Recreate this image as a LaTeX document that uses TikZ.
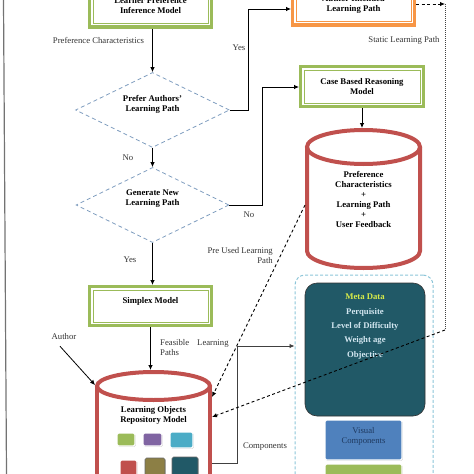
\documentclass[tikz,border=0pt]{standalone}
\usepackage{fontspec}
\setmainfont{Liberation Serif}
\usetikzlibrary{arrows.meta,shapes.geometric,calc,shadows}
\definecolor{grn}{HTML}{9BBB59}
\definecolor{org}{HTML}{F79646}
\definecolor{redc}{HTML}{C0504D}
\definecolor{dmdc}{HTML}{7F9DBF}
\definecolor{dboxc}{HTML}{8CC5D8}
\definecolor{tealc}{HTML}{215967}
\definecolor{metay}{HTML}{D6EA4A}
\definecolor{metaw}{HTML}{D2E6F0}
\definecolor{visb}{HTML}{4F81BD}
\definecolor{visn}{HTML}{1F3A60}
\definecolor{lblc}{HTML}{333333}
\definecolor{purp}{HTML}{8064A2}
\definecolor{cyanc}{HTML}{4BACC6}
\definecolor{olv}{HTML}{8C7F45}
\begin{document}
\begin{tikzpicture}[x=1pt,y=1pt,
  font=\fontsize{8.7}{10}\selectfont,
  gbox/.style={draw=grn, line width=3.2pt, inner sep=0pt, align=center,
    font=\fontsize{8.7}{10}\selectfont\bfseries},
  obox/.style={gbox, draw=org},
  inframe/.style={line width=0.9pt},
  dmd/.style={diamond, draw=dmdc, dash pattern=on 4pt off 3pt, line width=0.8pt, inner sep=0pt},
  btxt/.style={inner sep=0pt, align=center, font=\fontsize{8.7}{10}\selectfont\bfseries},
  lbl/.style={inner sep=0pt, text=lblc, font=\fontsize{8.7}{10}\selectfont},
  arr/.style={-{Latex[length=5pt,width=4.5pt]}, line width=0.8pt},
  darr/.style={arr, dash pattern=on 3pt off 2.5pt, line width=0.9pt},
  dotl/.style={dash pattern=on 1pt off 1pt, line width=0.9pt, draw=black!75},
  cyl/.style={draw=redc, line width=4pt},
  body/.style={inner sep=0pt, outer sep=0pt, minimum width=113pt, minimum height=104pt},
  sq/.style={draw=white, line width=1.2pt, rounded corners=1.5pt, inner sep=0pt,
    drop shadow={shadow xshift=0.8pt, shadow yshift=-0.8pt, opacity=0.35}},
]
\useasboundingbox (0,0) rectangle (474,-474);
\clip (0,0) rectangle (474,-474);

% left edge line
\draw[black!55, line width=1.2pt] (3.5,0) -- (6.5,-474);

% boxes
\node[gbox, minimum width=121.8pt, minimum height=44pt] (lpim) at (150.5,-5) {Learner Preference\\Inference Model};
\draw[grn, inframe] ($(lpim.south west)+(5,5)$) rectangle ($(lpim.north east)+(-5,-5)$);

\node[obox, minimum width=121.8pt, minimum height=42pt] (aip) at (353.5,-4) {Author Intended\\Learning Path};
\draw[org, inframe] ($(aip.south west)+(5,5)$) rectangle ($(aip.north east)+(-5,-5)$);

\node[gbox, minimum width=122.8pt, minimum height=39.8pt] (cbr) at (362,-86.5) {Case Based Reasoning\\Model};
\draw[grn, inframe] ($(cbr.south west)+(5,5)$) rectangle ($(cbr.north east)+(-5,-5)$);

\node[gbox, minimum width=121.8pt, minimum height=38.8pt] (simplex) at (150.5,-306) {};
\draw[grn, inframe] ($(simplex.south west)+(5,5)$) rectangle ($(simplex.north east)+(-5,-5)$);
\node[btxt] (simpt) at (150.5,-301) {Simplex Model};

% diamonds
\node[dmd, minimum width=154pt, minimum height=75pt] (d1) at (152.5,-110) {};
\node[btxt] (d1t) at (152.5,-104) {Prefer Authors'\\Learning Path};
\node[dmd, minimum width=153pt, minimum height=75pt] (d2) at (152.5,-205) {};
\node[btxt] (d2t) at (152.5,-199) {Generate New\\Learning Path};

% cylinder: preference characteristics
\node[body, btxt] (pcdb) at (363.5,-199) {Preference\\Characteristics\\+\\Learning Path\\+\\User Feedback};
\draw[cyl] (pcdb.north) ellipse [x radius=56.5, y radius=17];
\draw[cyl] (pcdb.north west) -- (pcdb.south west) arc[start angle=180, end angle=360, x radius=56.5, y radius=17] -- (pcdb.north east);

% dashed container + meta data
\node[draw=dboxc, dash pattern=on 3pt off 2pt, line width=1pt, rounded corners=10pt,
  minimum width=138pt, minimum height=220pt, inner sep=0pt] (dbox) at (364,-385) {};
\node[fill=tealc, draw=black!80, line width=0.6pt, rounded corners=12pt,
  minimum width=120pt, minimum height=133pt, inner sep=0pt] (meta) at (365,-349.5) {};
\node[inner sep=0pt, align=center, text=metaw, font=\fontsize{8.7}{14.3}\selectfont\bfseries] (metat) at (365,-326.5)
  {\textcolor{metay}{Meta Data}\\Perquisite\\Level of Difficulty\\Weight age\\Objective};
\node[sq, fill=visb, minimum width=77pt, minimum height=40pt] (vis) at (363.5,-440) {};
\node[inner sep=0pt, align=center, text=visn] (vist) at (363.5,-436) {Visual\\Components};
\node[sq, fill=grn, minimum width=77pt, minimum height=36pt] (grnb) at (363.5,-482) {};

% LO repository cylinder
\node[body] (lo) at (153.5,-438) {};
\draw[cyl] (lo.north) ellipse [x radius=56.5, y radius=14];
\draw[cyl] (lo.north west) -- (lo.south west);
\draw[cyl] (lo.north east) -- (lo.south east);
\node[btxt] (lot) at (153.5,-415) {Learning Objects\\Repository Model};
\node[sq, fill=grn, minimum width=18pt, minimum height=13pt] (s1) at (126,-439.5) {};
\node[sq, fill=purp, minimum width=19pt, minimum height=13pt] (s2) at (152.5,-439.5) {};
\node[sq, fill=cyanc, minimum width=23pt, minimum height=16pt] (s3) at (181.5,-440) {};
\node[sq, fill=redc, minimum width=17pt, minimum height=16pt] (s4) at (128.5,-468) {};
\node[sq, fill=olv, draw=black!60, line width=0.6pt, minimum width=20pt, minimum height=20pt] (s5) at (155,-468) {};
\node[sq, fill=tealc, draw=black!60, line width=0.6pt, minimum width=26pt, minimum height=23pt] (s6) at (185,-468.5) {};

% labels
\node[lbl] (l1) at (98.5,-40) {Preference Characteristics};
\node[lbl] (l2) at (239,-48) {Yes};
\node[lbl] (l3) at (404,-40) {Static Learning Path};
\node[lbl] (l4) at (128,-158) {No};
\node[lbl] (l5) at (249,-215) {No};
\node[lbl, align=right, anchor=east] (l6) at (273,-256) {Pre Used Learning\\Path};
\node[lbl] (l7) at (130,-260) {Yes};
\node[lbl] (l8) at (64,-337) {Author};
\node[lbl, align=left, anchor=west] (l9) at (160,-348) {Feasible\hspace{8pt}Learning\\Paths};
\node[lbl] (l10) at (265,-447) {Components};

% connectors
\coordinate (yc) at (248,-9);
\coordinate (nc) at (262,-87);
\coordinate (c1) at (445,-4);
\coordinate (c2) at (445,-330);
\coordinate (cc) at (237,-346);
\coordinate (pctop) at ([yshift=19pt]pcdb.north);
\coordinate (lotop) at ([yshift=16pt]lo.north);

\draw[arr] (d1.north |- lpim.south) -- (d1.north);
\draw[arr] (d1.east) -| (yc) -- (yc -| aip.west);
\draw[arr] (d1.south) -- (d2.north);
\draw[arr] (d2.east) -| (nc) -- (nc -| cbr.west);
\draw[arr] (cbr.south) -- (cbr.south |- pctop);
\draw[arr] (d2.south) -- (d2.south |- simplex.north);
\draw[arr] (simplex.south) -- (simplex.south |- lotop);
\draw[arr] ([xshift=-4pt,yshift=-6pt]l8.south) -- ($(lo.north west)+(-2,1)$);
\draw[arr, draw=black!75] ($(lo.north east)+(2,-77)$) -| (cc) -- (cc -| dbox.west);
\draw[darr] (aip.east |- c1) -- (c1);
\draw[dotl] (c1) -- (c2);
\draw[darr] (c2) -- ($(lo.north east)+(2,-31)$);
\draw[darr] ([xshift=-2pt,yshift=-6pt]pcdb.west) -- ($(lo.north east)+(2,-11)$);
\end{tikzpicture}
\end{document}
